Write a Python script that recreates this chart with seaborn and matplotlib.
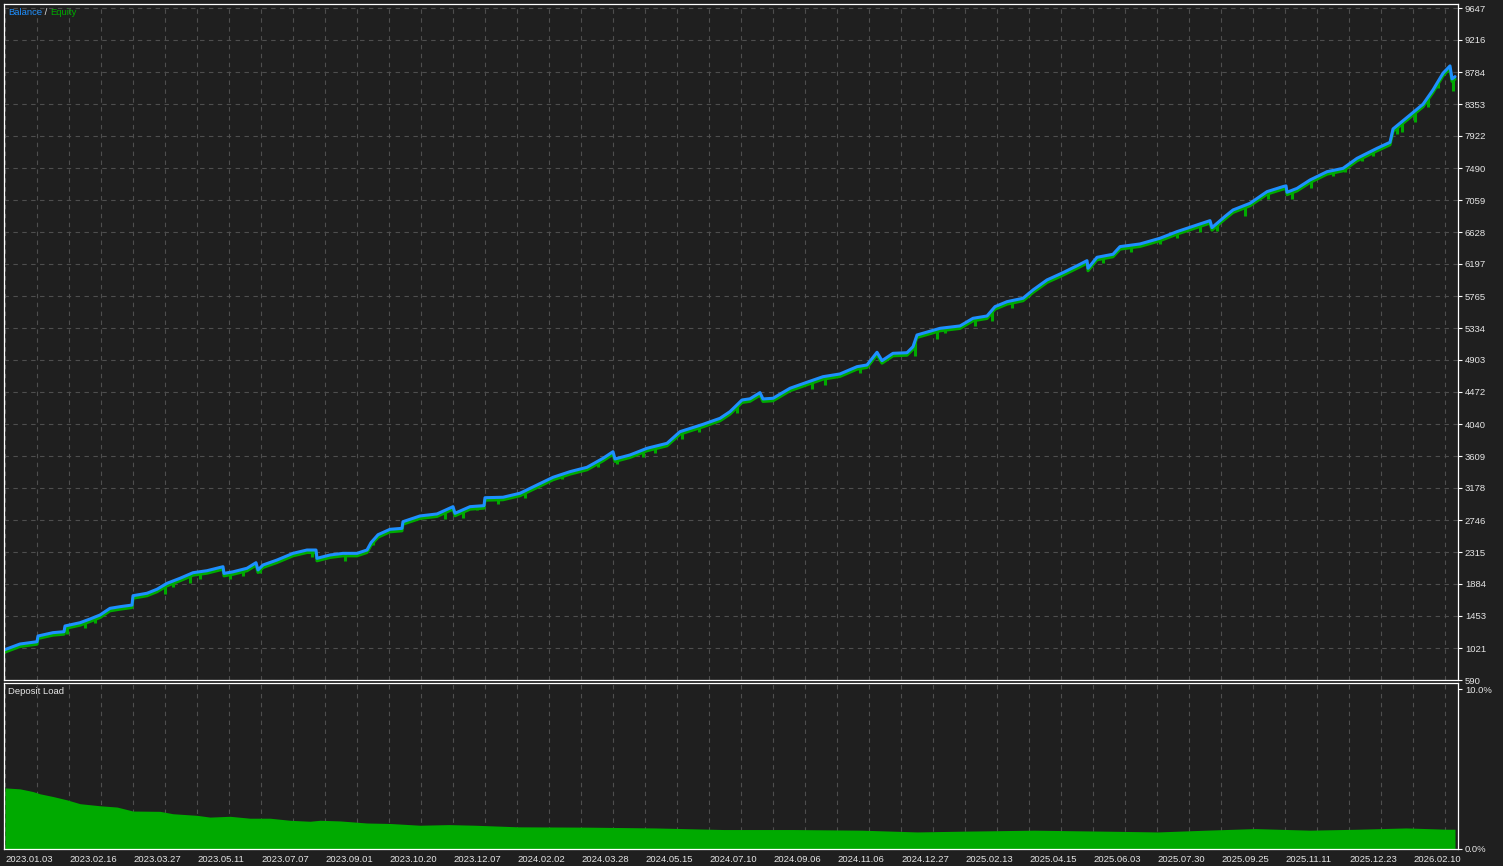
import numpy as np
import pandas as pd
import matplotlib
matplotlib.use("Agg")
import matplotlib.pyplot as plt
from matplotlib.transforms import offset_copy
import seaborn as sns

# ---------------- data ----------------
deals = [0, 15, 32, 33, 48, 59, 60, 75, 85, 95,
         105, 115, 127, 128, 142, 152, 162, 175, 188, 202,
         218, 219, 228, 242, 251, 253, 258, 272, 288, 302,
         311, 312, 325, 338, 352, 362, 366, 373, 385, 397,
         398, 415, 432, 448, 450, 465, 479, 480, 498, 515,
         532, 548, 565, 582, 598, 608, 610, 625, 642, 662,
         675, 698, 715, 725, 737, 745, 755, 758, 768, 785,
         802, 818, 835, 852, 862, 872, 877, 888, 902, 908,
         912, 935, 955, 968, 982, 990, 1002, 1018, 1028, 1042,
         1058, 1075, 1082, 1083, 1092, 1108, 1115, 1135, 1155, 1172,
         1192, 1205, 1207, 1220, 1228, 1245, 1262, 1278, 1281, 1282,
         1292, 1305, 1322, 1338, 1352, 1372, 1385, 1388, 1405, 1418,
         1428, 1438, 1445, 1447, 1450]
balance = [1000, 1075, 1106, 1183, 1228, 1241, 1318, 1362, 1412, 1466,
           1556, 1578, 1600, 1726, 1759, 1813, 1893, 1961, 2036, 2063,
           2117, 2027, 2048, 2096, 2171, 2073, 2140, 2207, 2297, 2342,
           2342, 2230, 2275, 2297, 2297, 2342, 2441, 2548, 2621, 2634,
           2724, 2801, 2828, 2926, 2837, 2926, 2940, 3047, 3053, 3107,
           3218, 3322, 3398, 3457, 3578, 3667, 3569, 3623, 3713, 3780,
           3937, 4036, 4117, 4207, 4364, 4380, 4463, 4378, 4387, 4522,
           4603, 4678, 4715, 4813, 4836, 5007, 4894, 4993, 5001, 5082,
           5240, 5330, 5362, 5465, 5496, 5622, 5689, 5735, 5847, 5982,
           6080, 6193, 6242, 6139, 6287, 6328, 6431, 6467, 6544, 6633,
           6723, 6781, 6687, 6838, 6925, 7015, 7172, 7240, 7250, 7164,
           7216, 7329, 7441, 7486, 7621, 7756, 7837, 8017, 8205, 8350,
           8543, 8768, 8867, 8692, 8722]

dip_deals = [62, 80, 90, 122, 160, 168, 185, 195, 225, 238, 255, 307, 340, 368,
             440, 458, 472, 493, 520, 557, 593, 612, 638, 650, 677, 694, 732,
             807, 820, 855, 910, 932, 940, 970, 987, 1007, 1086, 1098, 1126,
             1155, 1172, 1195, 1212, 1240, 1263, 1287, 1306, 1328, 1340, 1357,
             1368, 1392, 1397, 1410, 1423, 1433, 1448]
dip_equity = [1215, 1295, 1362, 1587, 1749, 1839, 1901, 1947, 1947, 1992, 2036, 2243, 2198, 2410,
              2754, 2767, 2881, 2962, 3039, 3296, 3457, 3502, 3592, 3654, 3834, 3937, 4184,
              4514, 4566, 4732, 4960, 5180, 5261, 5366, 5435, 5600, 6161, 6206, 6365,
              6462, 6544, 6633, 6642, 6838, 7073, 7073, 7216, 7384, 7441, 7585,
              7657, 7945, 7972, 8115, 8318, 8565, 8533]

load_deals = [0, 15, 28, 35, 48, 62, 75, 95, 112, 128, 155, 168, 192, 205, 225,
              245, 265, 285, 305, 315, 335, 362, 385, 415, 444, 470, 513, 582,
              650, 719, 788, 857, 912, 960, 1029, 1098, 1153, 1201, 1250, 1305,
              1353, 1401, 1442, 1450]
deposit_load = [3.83, 3.77, 3.60, 3.46, 3.29, 3.08, 2.84, 2.71, 2.63, 2.38, 2.36, 2.21, 2.11, 2.00, 2.05,
                1.93, 1.93, 1.80, 1.74, 1.80, 1.76, 1.63, 1.60, 1.49, 1.53, 1.49, 1.39, 1.37,
                1.32, 1.22, 1.22, 1.18, 1.07, 1.12, 1.18, 1.12, 1.07, 1.18, 1.28, 1.18,
                1.24, 1.32, 1.24, 1.24]

y_ticks = [590, 1021, 1453, 1884, 2315, 2746, 3178, 3609, 4040, 4472, 4903,
           5334, 5765, 6197, 6628, 7059, 7490, 7922, 8353, 8784, 9216, 9647]
date_labels = ["2023.01.03", "2023.02.16", "2023.03.27", "2023.05.11", "2023.07.07",
               "2023.09.01", "2023.10.20", "2023.12.07", "2024.02.02", "2024.03.28",
               "2024.05.15", "2024.07.10", "2024.09.06", "2024.11.06", "2024.12.27",
               "2025.02.13", "2025.04.15", "2025.06.03", "2025.07.30", "2025.09.25",
               "2025.11.11", "2025.12.23", "2026.02.10"]

# ---------------- style ----------------
sns.set_theme(style="dark")
plt.rcParams["font.family"] = ["Liberation Sans", "DejaVu Sans"]

BG = "#1f1f1f"
BLUE = "#1e90ff"
GREEN = "#00aa00"
TXT = "#e6e6e6"
GRID = "#4e4e4e"
W, H = 1503, 866
FS = 6.8

fig = plt.figure(figsize=(W / 100, H / 100), dpi=100, facecolor=BG)


def rect(l, t, r, b):
    return [l / W, 1 - b / H, (r - l) / W, (b - t) / H]


ax = fig.add_axes(rect(4, 4, 1458, 680))
ax2 = fig.add_axes(rect(4, 683, 1458, 849))

major_x = [64 * i for i in range(len(date_labels))]
minor_x = [64 * i + 32 for i in range(len(date_labels))]

for a in (ax, ax2):
    a.set_facecolor(BG)
    for s in a.spines.values():
        s.set_color("white")
        s.set_linewidth(0.9)
    a.set_xlim(-1, 1453)
    a.set_xticks(major_x)
    a.set_xticks(minor_x, minor=True)
    a.grid(False)
    a.grid(True, axis="x", which="both", color=GRID, linestyle=(0, (4, 4)), linewidth=0.8)
    a.yaxis.tick_right()
    a.tick_params(axis="y", which="both", colors="white", labelcolor=TXT, length=3,
                  width=0.8, pad=2, direction="out", labelsize=FS)
    a.tick_params(axis="x", which="minor", length=0)

# --- top panel ---
df = pd.DataFrame({"deal": deals, "balance": balance})
sns.lineplot(data=df, x="deal", y="balance", ax=ax, color=GREEN, linewidth=2.2,
             sort=False, estimator=None)
eq_line = ax.lines[-1]
eq_line.set_transform(offset_copy(ax.transData, fig=fig, x=0, y=-2.5, units="dots"))
top_vals = np.interp(dip_deals, deals, balance)
ax.vlines(dip_deals, dip_equity, top_vals, color=GREEN, linewidth=2.2, zorder=2)
sns.lineplot(data=df, x="deal", y="balance", ax=ax, color=BLUE, linewidth=2.2,
             sort=False, estimator=None)
ax.set_ylim(590, 9701)
ax.set_yticks(y_ticks)
ax.set_yticklabels([str(v) for v in y_ticks])
ax.grid(True, axis="y", color=GRID, linestyle=(0, (4, 4)), linewidth=0.8)
ax.tick_params(axis="x", which="both", length=0, labelbottom=False)
ax.set_xlabel("")
ax.set_ylabel("")

# --- bottom panel ---
ax2.fill_between(load_deals, deposit_load, color=GREEN, linewidth=0)
ax2.set_ylim(0, 10.405)
ax2.set_yticks([0, 10])
ax2.set_yticklabels(["0.0%", "10.0%"])
ax2.set_xticklabels(date_labels)
ax2.tick_params(axis="x", which="major", colors="white", labelcolor=TXT, length=3,
                width=0.8, pad=1, direction="out", labelsize=FS)
for lbl in ax2.get_xticklabels():
    lbl.set_horizontalalignment("left")
ax2.set_xlabel("")
ax2.set_ylabel("")
fig.text(8 / W, 1 - 691 / H, "Deposit Load", color=TXT, fontsize=FS, va="center", ha="left")

# legend-like caption: Balance / Equity
renderer = fig.canvas.get_renderer()
x0 = 8
for part, col in (("Balance", BLUE), (" / ", TXT), ("Equity", GREEN)):
    t = fig.text(x0 / W, 1 - 12.5 / H, part, color=col, fontsize=FS, va="center", ha="left")
    x0 = t.get_window_extent(renderer).x1

fig.savefig("out.png", dpi=100, facecolor=BG)
